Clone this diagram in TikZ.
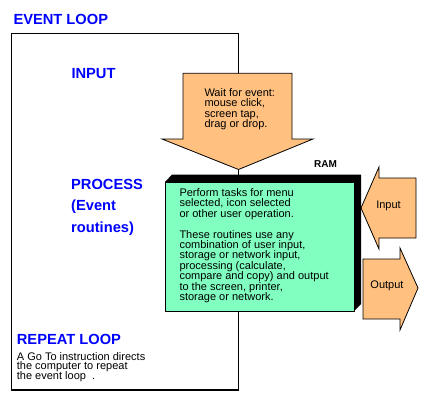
\documentclass[tikz,border=0pt]{standalone}
\usepackage{fontspec}
\setmainfont{Liberation Sans}
\setlength{\lineskiplimit}{-10pt}
\definecolor{peach}{RGB}{255,192,128}
\definecolor{mint}{RGB}{128,255,192}
\definecolor{titleblue}{RGB}{0,0,255}
\tikzset{
    heading/.style={anchor=north west, inner sep=0pt, align=left, text=titleblue,
        font=\fontsize{14.67}{21.7}\selectfont\bfseries},
    bodytext/.style={anchor=north west, inner sep=0pt, align=left,
        font=\fontsize{11}{10.4}\selectfont},
    arrowbox/.style={fill=peach, draw=black, line width=0.8pt, line join=miter},
}
\begin{document}
\begin{tikzpicture}[x=1pt, y=-1pt]
        \useasboundingbox (0,0) rectangle (428,402);

        % event loop frame
        \draw[black, line width=1.3pt] (11.7,33.3) rectangle (238.5,390);

        % wait for event
        \draw[arrowbox] (183,73.3) -- (292,73.3) -- (292,139) -- (313,139) -- (238.5,169.5)
            -- (162,139) -- (183,139) -- cycle;

        % process box (RAM)
        \fill[black] (165,182) -- (172,174.5) -- (361,174.5) -- (361,304) -- (354,311) -- cycle;
        \draw[black, line width=0.8pt, fill=mint] (165,182) rectangle (354,311);

        % input / output arrows
        \draw[arrowbox] (361,208) -- (379,167) -- (379,178) -- (416,178) -- (416,238)
            -- (379,238) -- (379,249) -- cycle;
        \draw[arrowbox] (363,259) -- (400,259) -- (400,248) -- (418,288) -- (400,330)
            -- (400,319) -- (363,319) -- cycle;

        % headings
        \node[heading] (eventloop) at (13.3,14) {EVENT LOOP};
        \node[heading] (input) at (71.3,68.5) {INPUT};
        \node[heading] (process) at (71,178.7) {PROCESS\\(Event\\routines)};
        \node[heading] (repeat) at (16.7,334) {REPEAT LOOP};

        % texts
        \node[bodytext] (wait) at (204.3,88.3) {Wait for event:\\mouse click,\\screen tap,\\drag or drop.};
        \node[bodytext] (tasks) at (179.3,188.3) {Perform tasks for menu\\selected, icon selected\\or other user operation.\\[10.4pt]
            These routines use any\\combination of user input,\\storage or network input,\\processing (calculate,\\compare and copy) and output\\to the screen, printer,\\storage or network.};
        \node[bodytext, font=\fontsize{11}{9.5}\selectfont] (goto) at (16.7,352.3)
            {A Go To instruction directs\\the computer to repeat\\the event loop~~.};
        \node[anchor=north west, inner sep=0pt, font=\fontsize{10}{12}\selectfont\bfseries] (ram) at (314,160) {RAM};
        \node[inner sep=0pt, font=\fontsize{11}{12}\selectfont] (inlabel) at (388.5,205.7) {Input};
        \node[inner sep=0pt, font=\fontsize{11}{12}\selectfont] (outlabel) at (387,286) {Output};
    \end{tikzpicture}
\end{document}
